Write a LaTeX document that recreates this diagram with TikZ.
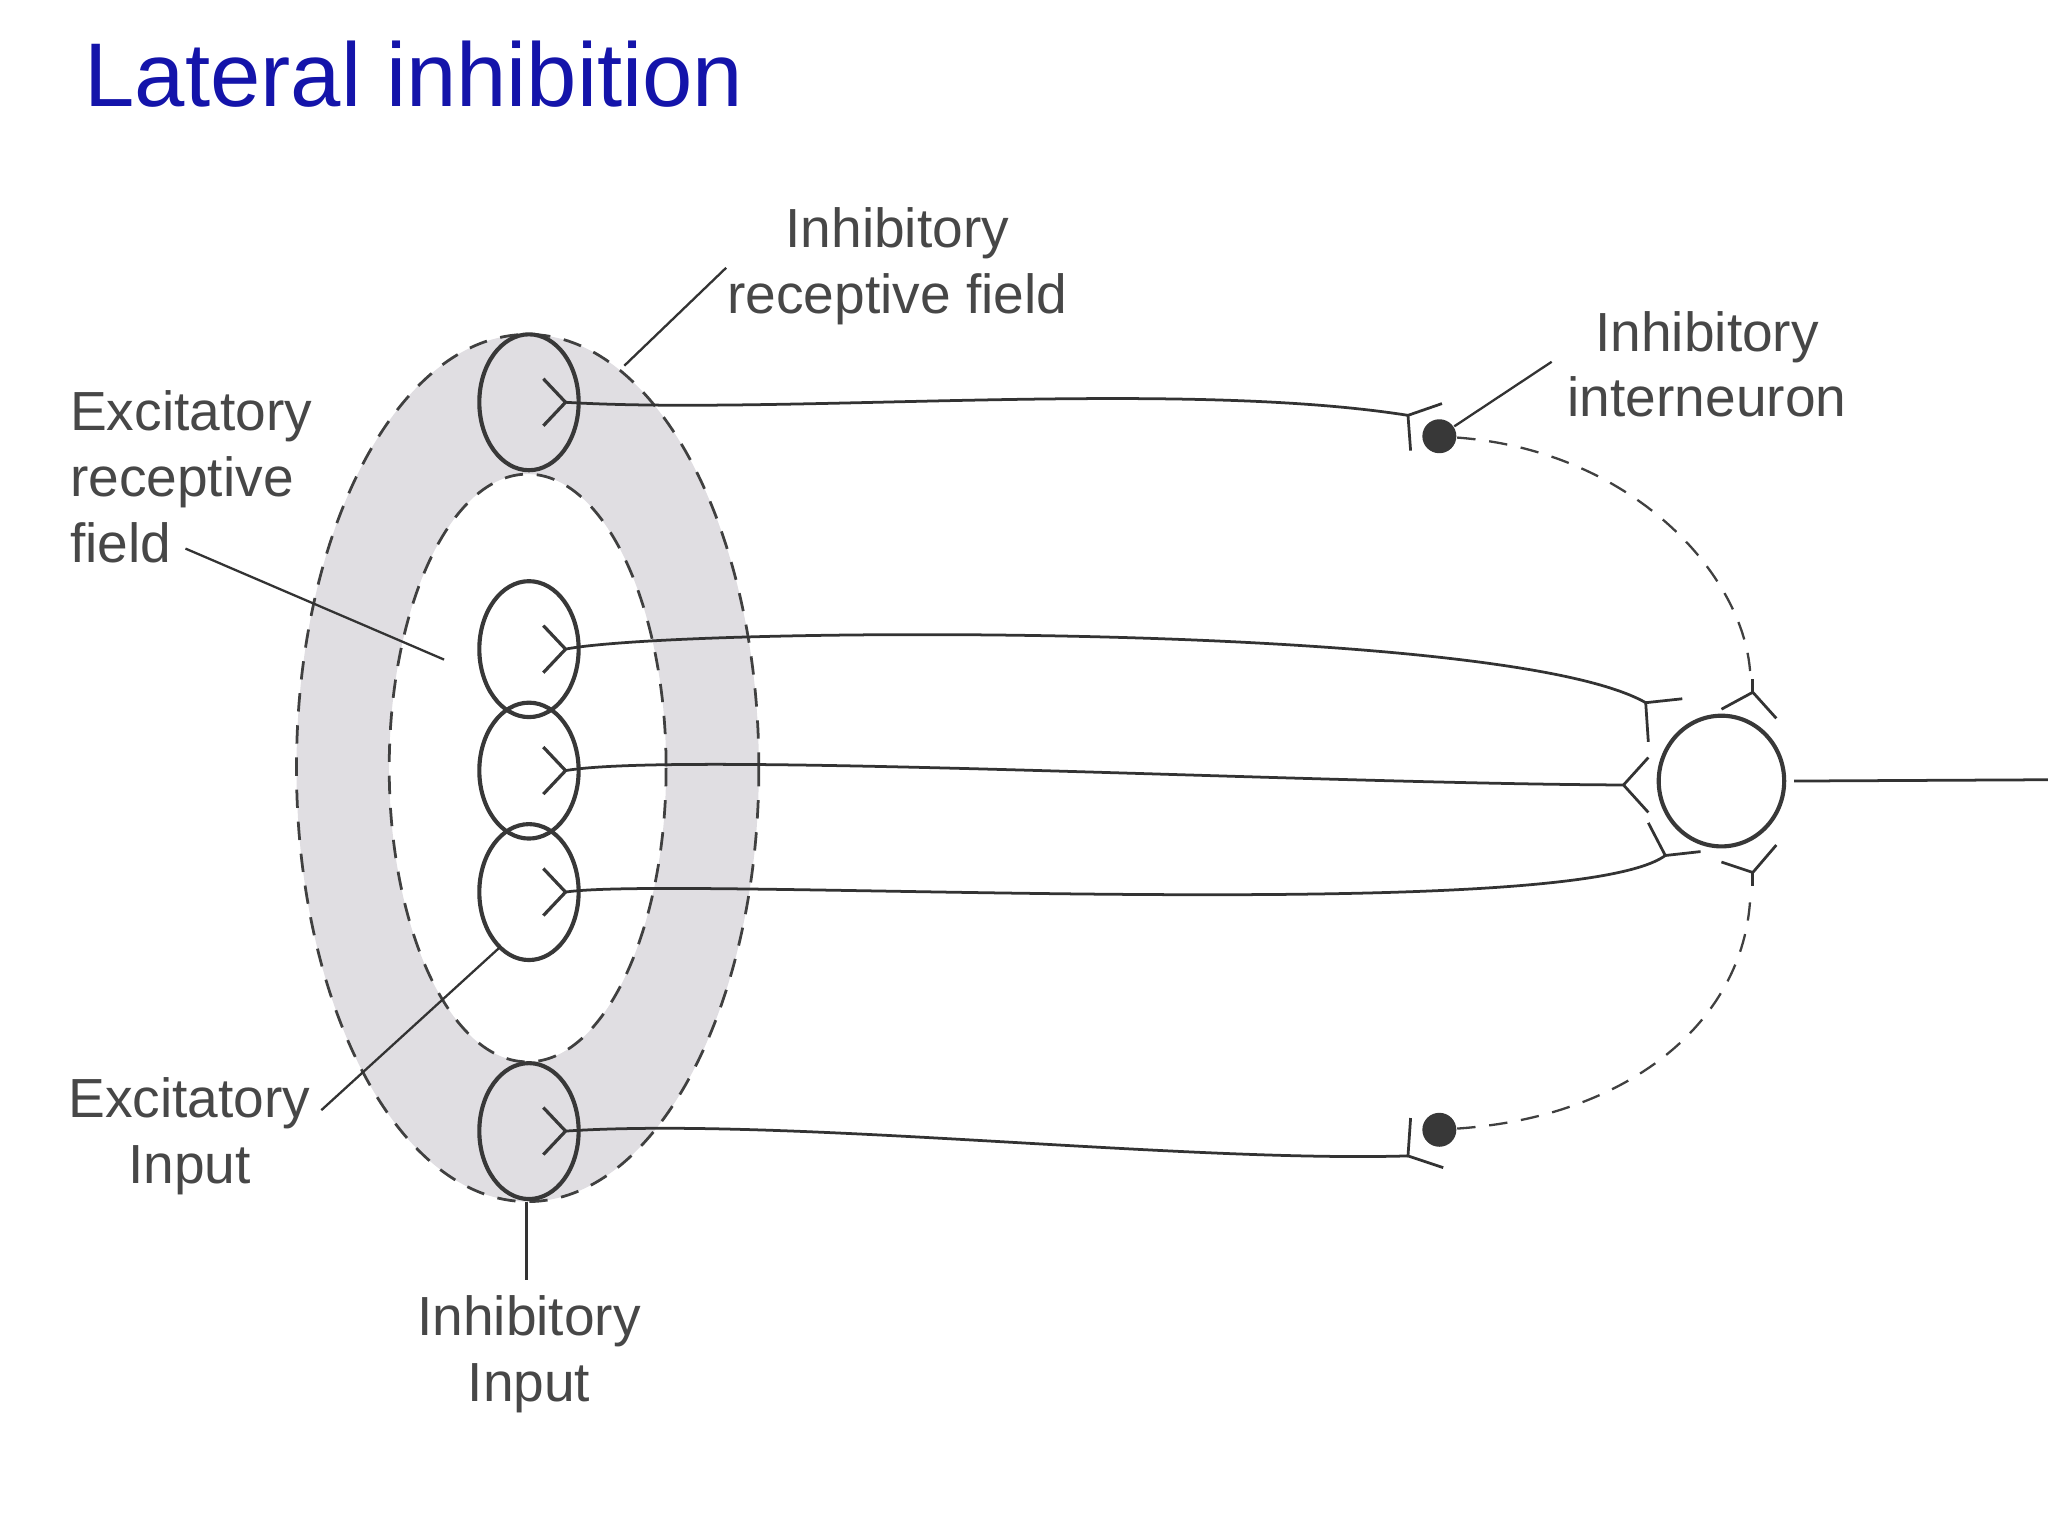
\documentclass[tikz,border=0pt]{standalone}
\usepackage{fontspec}
\setmainfont{Liberation Sans}
\usetikzlibrary{shapes.geometric}
\begin{document}
\begin{tikzpicture}[x=0.01cm,y=-0.01cm,
  lab/.style={text=black!72,font=\fontsize{12}{14.3}\selectfont,align=center,inner sep=0},
  cell/.style={draw=black!78,line width=0.9pt},
  fib/.style={draw=black!80,line width=0.6pt},
  lead/.style={draw=black!80,line width=0.5pt},
  dsh/.style={draw=black!75,line width=0.5pt,dash pattern=on 4pt off 3pt},
  dot/.style={circle,fill=black!78,minimum size=0.26cm,inner sep=0}]
\useasboundingbox (0,0) rectangle (1568,1176);
\node[text={rgb,255:red,20;green,20;blue,170},font=\fontsize{19.7}{24}\selectfont,anchor=west,inner sep=0] (title) at (64,57) {Lateral inhibition};
% receptive fields
\fill[even odd rule,fill={rgb,255:red,224;green,222;blue,226}] (404,588) ellipse [x radius=177,y radius=332] (404,588) ellipse [x radius=106,y radius=225];
\draw[dsh,line width=0.6pt] (404,588) ellipse [x radius=177,y radius=332];
\draw[dsh,line width=0.6pt] (404,588) ellipse [x radius=106,y radius=225];
% input cells
\foreach \n/\y in {a/308,b/497,c/590,d/683,e/866}{
  \node[cell,ellipse,minimum width=0.76cm,minimum height=1.04cm,inner sep=0] (\n) at (405,\y) {};
  \draw[cell,line width=0.7pt] (416,\y-18) -- (433,\y) -- (416,\y+18);
}
\coordinate (a1) at (433,308); \coordinate (b1) at (433,497); \coordinate (c1) at (433,590);
\coordinate (d1) at (433,683); \coordinate (e1) at (433,866);
% interneurons
\node[dot] (i1) at (1102,334) {};
\node[dot] (i2) at (1102,865) {};
% target cell
\node[cell,ellipse,minimum width=0.96cm,minimum height=1.0cm,inner sep=0] (T) at (1318,598) {};
\coordinate (out) at (1568,597);
\draw[fib] (T.east) ++(6,0) -- (out);
% fibers
\coordinate (s1) at (1078,318);
\draw[fib] (a1) .. controls (600,318) and (900,290) .. (s1);
\draw[fib] (1104,309) -- (s1) -- (1080,345);
\coordinate (s2) at (1260,538);
\draw[fib] (b1) .. controls (520,480) and (1150,475) .. (s2);
\draw[fib] (1288,535) -- (s2) -- (1262,568);
\coordinate (s3) at (1243,601);
\draw[fib] (c1) .. controls (520,575) and (1000,600) .. (s3);
\draw[fib] (1262,580) -- (s3) -- (1262,622);
\coordinate (s4) at (1275,655);
\draw[fib] (d1) .. controls (520,670) and (1200,710) .. (s4);
\draw[fib] (1302,652) -- (s4) -- (1262,630);
\coordinate (s5) at (1078,885);
\draw[fib] (e1) .. controls (600,855) and (900,890) .. (s5);
\draw[fib] (1080,856) -- (s5) -- (1105,894);
% dashed interneuron paths
\coordinate (t1) at (1342,530);
\coordinate (t2) at (1342,668);
\draw[dsh] (i1) .. controls (1250,345) and (1335,440) .. (1340,515);
\draw[fib] (1342,520) -- (t1); \draw[fib] (1318,543) -- (t1) -- (1360,550);
\draw[dsh] (i2) .. controls (1250,855) and (1335,780) .. (1340,688);
\draw[fib] (1342,678) -- (t2); \draw[fib] (1318,660) -- (t2) -- (1360,647);
% labels
\node[lab] (L1) at (687,204) {Inhibitory\\receptive field};
\draw[lead] (556,205) -- (478,280);
\node[lab] (L2) at (1307,279) {Inhibitory\\interneuron};
\draw[lead] (1188,277) -- (i1);
\node[lab,align=left,anchor=west] (L3) at (53,365) {Excitatory\\receptive\\field};
\draw[lead] (142,420) -- (340,505);
\node[lab] (L4) at (145,870) {Excitatory\\Input};
\draw[lead] (246,850) -- (383,725);
\node[lab] (L5) at (405,1037) {Inhibitory\\Input};
\draw[lead] (403,920) -- (403,980);
\end{tikzpicture}
\end{document}
